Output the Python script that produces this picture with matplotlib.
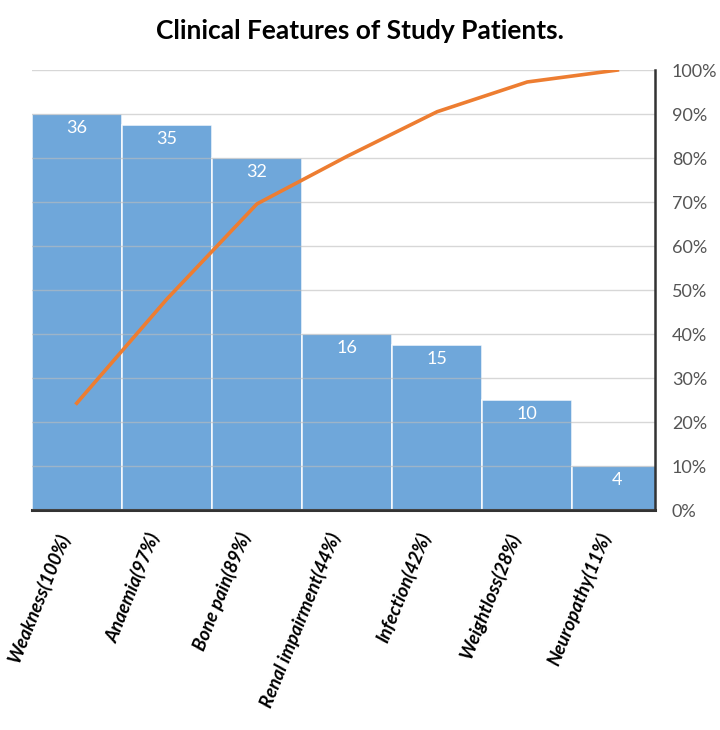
import matplotlib
matplotlib.use("Agg")
import matplotlib.pyplot as plt
import matplotlib.transforms as mtransforms
import numpy as np

categories = ["Weakness(100%)", "Anaemia(97%)", "Bone pain(89%)", "Renal impairment(44%)",
              "Infection(42%)", "Weightloss(28%)", "Neuropathy(11%)"]
counts = [36, 35, 32, 16, 15, 10, 4]
pct_ticks = [0, 10, 20, 30, 40, 50, 60, 70, 80, 90, 100]

plt.rcParams['font.family'] = ['Lato', 'DejaVu Sans']

cum = np.cumsum(counts) / np.sum(counts) * 100
x = np.arange(len(counts))

fig = plt.figure(figsize=(7.2, 7.3), dpi=100)
ax = fig.add_axes([0.044, 0.301, 0.866, 0.603])
ax2 = ax.twinx()

bars = ax.bar(x, counts, width=1.0, color="#5B9BD5", alpha=0.88, edgecolor="white", linewidth=1.2, zorder=1)
for xi, v in zip(x, counts):
    ax.text(xi, v - 0.5, str(v), ha="center", va="top", color="white", fontsize=13, zorder=3)

ax.set_ylim(0, 40)
ax.set_xlim(-0.5, 6.42)
ax.set_yticks(np.array(pct_ticks) * 0.4)
ax.yaxis.grid(True, color="#bdbdbd", linewidth=1.0, alpha=0.6, zorder=2)
ax.set_axisbelow(False)
ax.tick_params(axis="y", left=False, labelleft=False)
ax.tick_params(axis="x", length=0, pad=0)
ax.set_xticks(x)
ax.set_xticklabels(categories, rotation=68, ha="right", rotation_mode="anchor",
                   fontsize=13.5, fontweight="bold", fontstyle="italic")
offset = mtransforms.ScaledTranslation(-20 / 100, -20 / 100, fig.dpi_scale_trans)
for lab in ax.get_xticklabels():
    lab.set_transform(lab.get_transform() + offset)
for s in ["top", "left", "right"]:
    ax.spines[s].set_visible(False)
ax.spines["bottom"].set_linewidth(2.2)
ax.spines["bottom"].set_color("#333333")

ax2.plot(x, cum, color="#ED7D31", linewidth=2.6, zorder=4)
ax2.set_ylim(0, 100)
ax2.set_yticks(pct_ticks)
ax2.set_yticklabels([f"{t}%" for t in pct_ticks], fontsize=13, color="#555555")
ax2.tick_params(axis="y", length=0, pad=12)
for s in ["top", "left", "bottom"]:
    ax2.spines[s].set_visible(False)
ax2.spines["right"].set_linewidth(1.8)
ax2.spines["right"].set_color("#333333")

fig.text(0.5, 0.958, "Clinical Features of Study Patients.", ha="center", va="center",
         fontsize=19, fontweight="bold")

fig.savefig("out.png", dpi=100)
